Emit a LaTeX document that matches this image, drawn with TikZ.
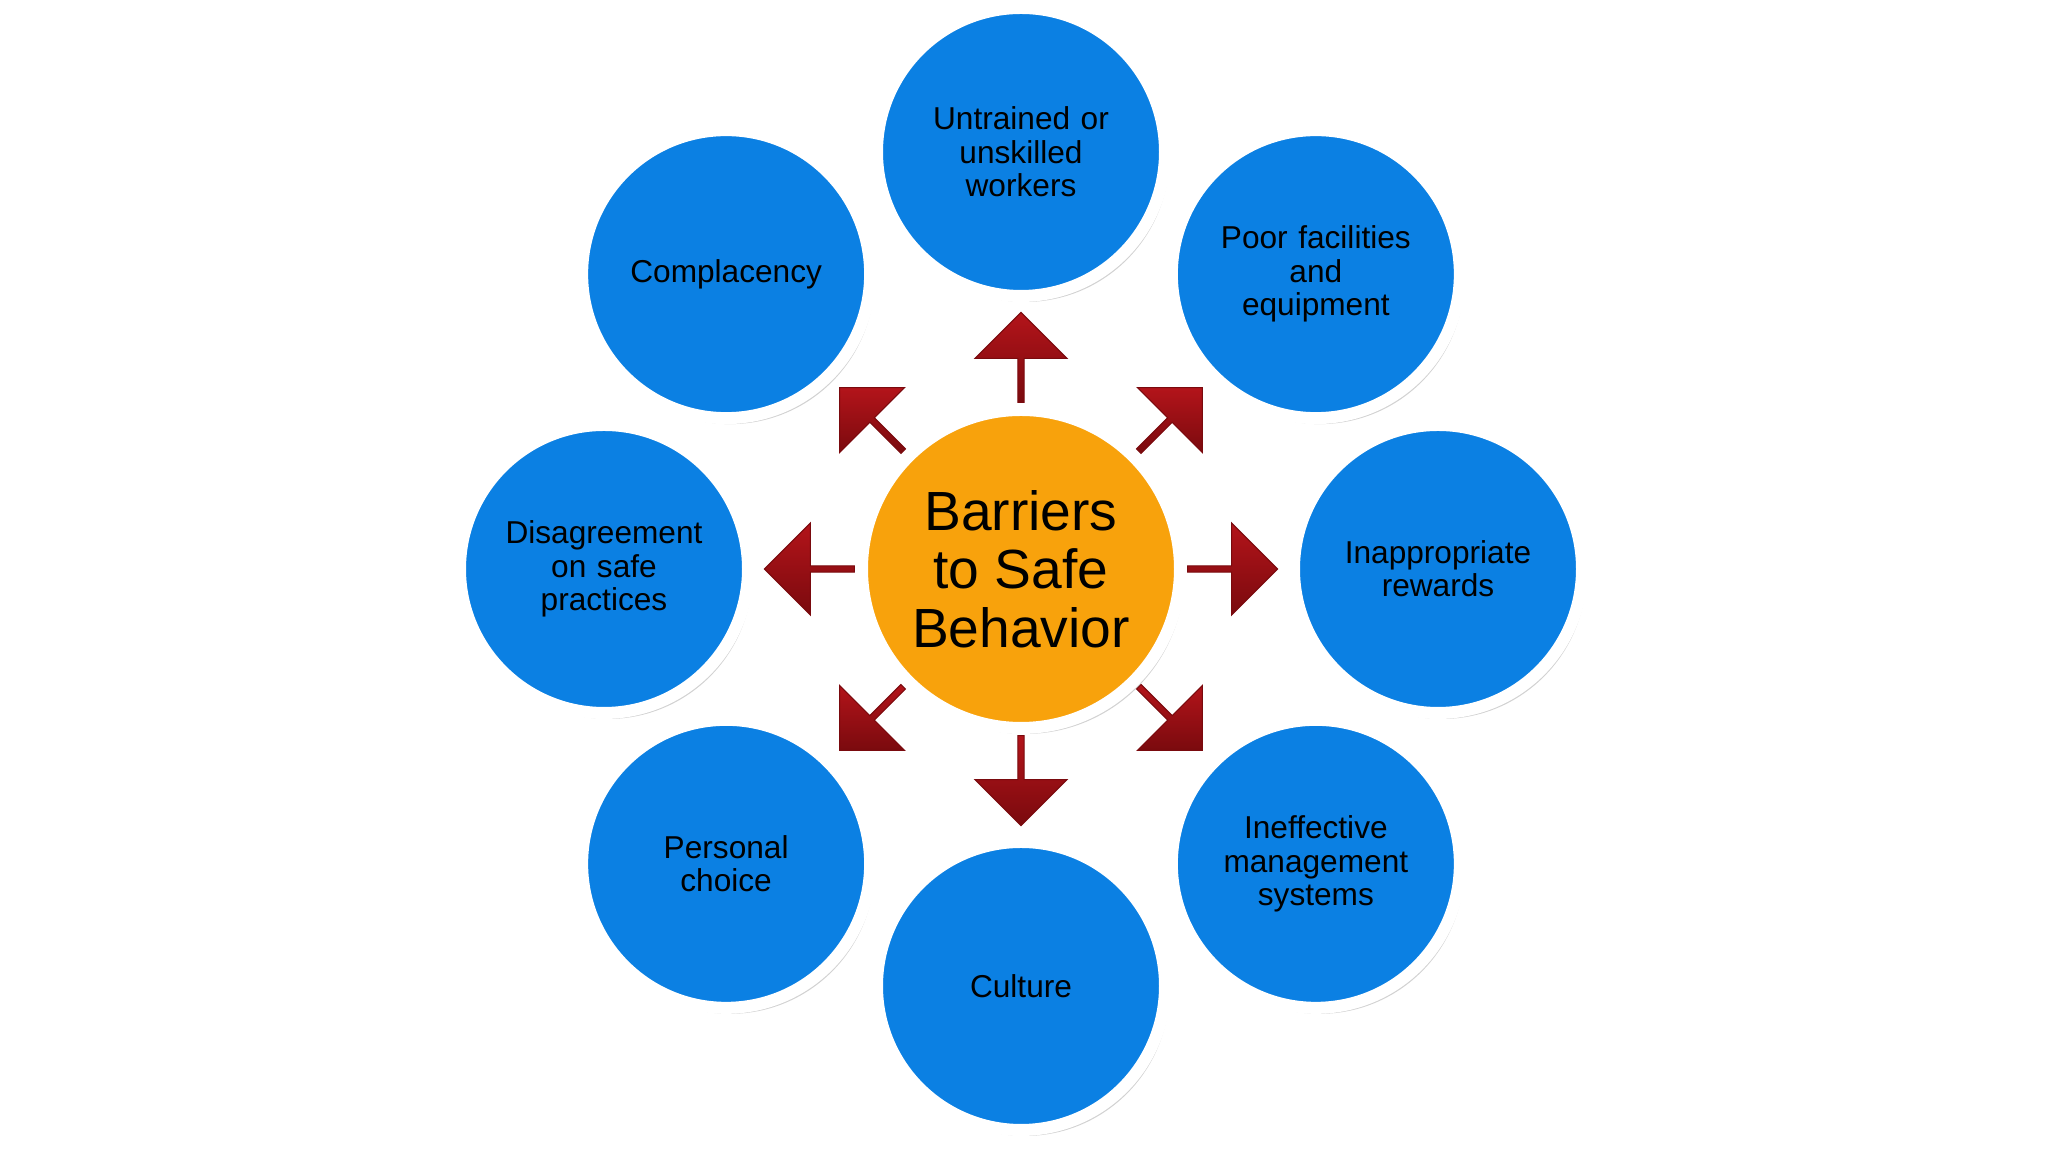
\documentclass[tikz,border=0pt]{standalone}
\usepackage{fontspec}
\setmainfont{Liberation Sans}
\usetikzlibrary{shapes.arrows,shadows,calc}
\definecolor{cblue}{HTML}{0B80E3}
\definecolor{corange}{HTML}{F8A20C}
\definecolor{cred}{HTML}{B3141A}
\definecolor{cdark}{HTML}{7A0A0E}
\tikzset{
  outer/.style={circle,minimum size=2.88cm,inner sep=0pt,fill=cblue,draw=white,line width=1.2mm,
    drop shadow={shadow xshift=0.4mm,shadow yshift=-0.6mm,opacity=0.35},
    align=center,text width=2.3cm,font=\fontsize{9}{9.5}\selectfont},
  center/.style={circle,minimum size=3.18cm,inner sep=0pt,fill=corange,draw=white,line width=1.2mm,
    drop shadow={shadow xshift=0.4mm,shadow yshift=-0.6mm,opacity=0.35},
    align=center,font=\fontsize{15.7}{16.6}\selectfont},
  barrow/.style={single arrow,minimum height=0.9cm,minimum width=0.92cm,single arrow head extend=0.1cm,
    inner sep=0pt,shape border uses incircle,top color=cred,bottom color=cdark,draw=cdark,line width=0.3pt}
}
\begin{document}
\begin{tikzpicture}
\fill[white] (0,0) rectangle (20.48,11.52);
\useasboundingbox (0,0) rectangle (20.48,11.52);
\coordinate (c) at (10.21,5.83);
\node[center] (hub) at (c) {Barriers\\to Safe\\Behavior};
\node[outer] (n90) at ($(c)+(90:4.17)$) {Untrained or\\unskilled\\workers};
\node[outer] (n45) at ($(c)+(45:4.17)$) {Poor facilities\\and\\equipment};
\node[outer] (n0) at ($(c)+(0:4.17)$) {Inappropriate\\rewards};
\node[outer] (n315) at ($(c)+(-45:4.17)$) {Ineffective\\management\\systems};
\node[outer] (n270) at ($(c)+(-90:4.17)$) {Culture};
\node[outer] (n225) at ($(c)+(225:4.17)$) {Personal\\choice};
\node[outer] (n180) at ($(c)+(180:4.17)$) {Disagreement\\on safe\\practices};
\node[outer] (n135) at ($(c)+(135:4.17)$) {Complacency};
\foreach \a in {0,45,...,315}{
  \node[barrow,rotate=\a] (ar\a) at ($(c)+(\a:2.1)$) {};
}
\end{tikzpicture}
\end{document}
